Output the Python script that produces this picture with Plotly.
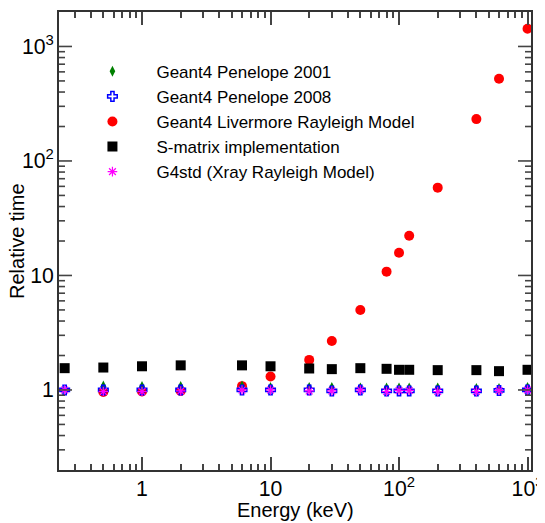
import plotly.graph_objects as go

# photon energies (keV)
energy = [0.25, 0.5, 1, 2, 6, 10, 20, 30, 50, 80, 100, 120, 200, 400, 600, 1000]

# relative CPU time
penelope_2001 = [None, 1.08, 1.07, 1.07, 1.08, 1.05, 1.05, 1.05, 1.04, 1.04, 1.04, 1.04, 1.04, 1.03, 1.03, 1.05]
penelope_2008 = [1.0, 1.0, 1.0, 1.0, 1.0, 1.0, 1.0, 0.98, 1.0, 0.98, 0.98, 0.98, 0.98, 0.98, 0.99, 1.0]
livermore = [None, 0.96, 0.97, 0.98, 1.08, 1.31, 1.83, 2.68, 5.0, 10.8, 15.8, 22.2, 58.5, 232, 523, 1430]
smatrix = [1.55, 1.57, 1.61, 1.64, 1.64, 1.61, 1.54, 1.52, 1.55, 1.53, 1.50, 1.50, 1.49, 1.49, 1.46, 1.50]
g4std = [1.0, 0.97, 0.97, 0.98, 1.0, 1.0, 0.98, 0.98, 1.0, 0.97, 0.99, 0.99, 0.97, 0.97, 0.99, 1.0]

names = ['Geant4 Penelope 2001', 'Geant4 Penelope 2008', 'Geant4 Livermore Rayleigh Model',
         'S-matrix implementation', 'G4std (Xray Rayleigh Model)']

# y tick positions (drawn as shapes, the y axis ticks do not render here)
y_major = [1, 10, 100, 1000]
y_minor = [0.3, 0.4, 0.5, 0.6, 0.7, 0.8, 0.9, 2, 3, 4, 5, 6, 7, 8, 9,
           20, 30, 40, 50, 60, 70, 80, 90, 200, 300, 400, 500, 600, 700, 800, 900]

font = 'Liberation Sans, Arial, Helvetica, sans-serif'
plot_w = 472  # plot area width in px
tick_col = '#444'

fig = go.Figure()

# drawing order: red, black, green, blue, magenta ; legend order via legendrank
fig.add_trace(go.Scatter(x=energy, y=livermore, mode='markers', name=names[2], legendrank=3,
                         marker=dict(symbol='circle', size=10, color='#ff0000')))
fig.add_trace(go.Scatter(x=energy, y=smatrix, mode='markers', name=names[3], legendrank=4,
                         marker=dict(symbol='square', size=10, color='black')))
fig.add_trace(go.Scatter(x=energy, y=penelope_2001, mode='markers', name=names[0], legendrank=1,
                         marker=dict(symbol='diamond-tall', size=8, color='#008000')))
fig.add_trace(go.Scatter(x=energy, y=penelope_2008, mode='markers', name=names[1], legendrank=2,
                         marker=dict(symbol='cross-open', size=8, color='#0000ff', line=dict(width=1.5))))
fig.add_trace(go.Scatter(x=energy, y=g4std, mode='markers', name=names[4], legendrank=5,
                         marker=dict(symbol='asterisk-open', size=8, color='#ff00ff', line=dict(width=1.2, color='#ff00ff'))))

# y ticks on left and right side, pointing inwards
for vals, length in [(y_major, 13), (y_minor, 6)]:
    f = length / plot_w
    for v in vals:
        for x0, x1 in [(0, f), (1 - f, 1)]:
            fig.add_shape(type='line', xref='paper', yref='y', x0=x0, x1=x1, y0=v, y1=v,
                          line=dict(color=tick_col, width=1.6), layer='above')

fig.update_xaxes(
    type='log', automargin=False, showgrid=False, zeroline=False,
    showline=True, linecolor='#333', linewidth=1.5, mirror='allticks',
    tickmode='linear', tick0=0, dtick=1, exponentformat='power',
    ticks='inside', ticklen=13, tickwidth=1.6, tickcolor=tick_col,
    minor=dict(ticks='inside', dtick='D1', ticklen=6, tickwidth=1.6, tickcolor=tick_col, showgrid=False),
    tickfont=dict(family=font, size=17, color='black'),
    range=[-0.646, 3.027],
)
fig.update_yaxes(
    type='log', automargin=False, showgrid=False, zeroline=False,
    showline=True, linecolor='#333', linewidth=1.5, mirror=True,
    tickmode='linear', tick0=0, dtick=1, exponentformat='power', ticks='',
    tickfont=dict(family=font, size=17, color='black'),
    range=[-0.699, 3.301],
)

# axis titles
fig.add_annotation(text='Energy (keV)', xref='paper', yref='paper', x=0.5, y=0,
                   yanchor='middle', yshift=-40, showarrow=False,
                   font=dict(family=font, size=20, color='black'))
fig.add_annotation(text='Relative time', xref='paper', yref='paper', x=0, y=0.5,
                   xanchor='center', xshift=-42, textangle=-90, showarrow=False,
                   font=dict(family=font, size=20, color='black'))

# the page body adds an 8px offset, so the figure is 8px smaller than the window
fig.update_layout(
    width=537, height=515,
    margin=dict(l=51, r=14, t=4, b=53),
    plot_bgcolor='white', paper_bgcolor='white',
    font=dict(family=font, color='black'),
    legend=dict(x=0.02, y=0.909, xanchor='left', yanchor='top',
                font=dict(family=font, size=17, color='black'),
                itemwidth=78, bgcolor='rgba(0,0,0,0)'),
)

fig.write_html('out.html')
